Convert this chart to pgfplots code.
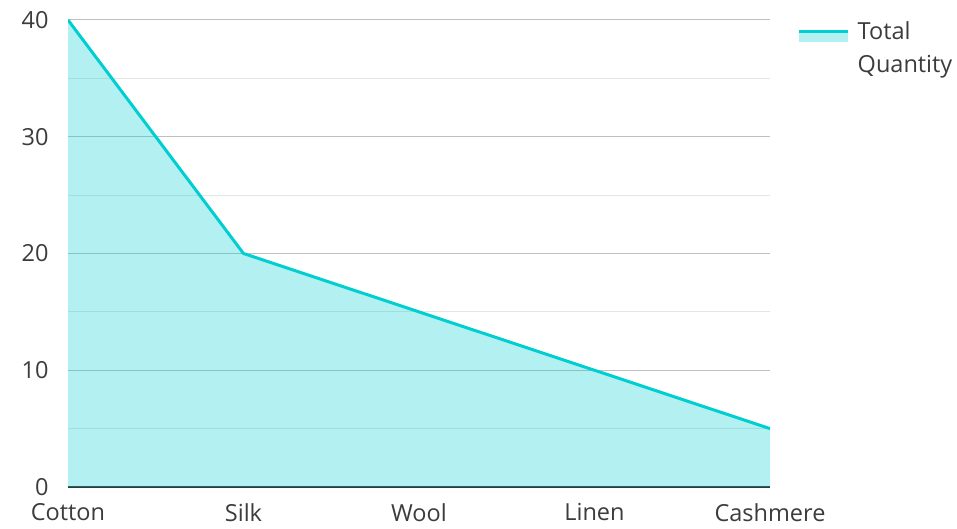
\documentclass[border=0pt]{standalone}
\usepackage{pgfplots}
\pgfplotsset{compat=1.18}
\usepackage{fontspec}
\setmainfont{Open Sans}
\definecolor{lineteal}{RGB}{0,206,209}
\definecolor{ticktext}{RGB}{60,60,60}

\begin{document}
\begin{tikzpicture}
\begin{axis}[
name=ax,
scale only axis, width=702pt, height=467pt,
xmin=0, xmax=4, ymin=0, ymax=40,
xtick={0,1,2,3,4},
xticklabels={Cotton,Silk,Wool,Linen,Cashmere},
ytick={0,10,20,30,40},
minor ytick={5,15,25,35},
ymajorgrids, yminorgrids,
major grid style={draw=black!25, line width=1pt},
minor grid style={draw=black!10, line width=1pt},
axis x line*=bottom, axis y line*=left,
x axis line style={-, draw=black!80, line width=2pt},
y axis line style={draw=none},
tick style={draw=none},
/pgf/number format/assume math mode=true,
ticklabel style={font=\fontsize{23.5}{26}\selectfont, text=ticktext},
yticklabel style={xshift=-16pt},
xticklabel style={yshift=-13pt},
legend style={at={(1,1)}, anchor=north west, xshift=24pt, yshift=3pt,
  draw=none, fill=none, font=\fontsize{23.5}{33}\selectfont, text=ticktext,
  cells={align=left, anchor=west}},
legend image code/.code={
  \path[draw=none, fill=none] (0pt,5pt) -- (57pt,5pt);
  \fill[lineteal!30, draw=none] (0pt,5pt) rectangle (49pt,16pt);
  \draw[lineteal, line width=3pt] (0pt,16pt) -- (49pt,16pt);
},
]
\addplot[draw=none, fill=lineteal, fill opacity=0.3, forget plot] coordinates {
  (0,40) (1,20) (2,15) (3,10) (4,5)
} \closedcycle;
\addplot[lineteal, line width=3pt, mark=none] coordinates {
  (0,40) (1,20) (2,15) (3,10) (4,5)
};
\addlegendentry{Total\\Quantity}
\end{axis}
\pgfresetboundingbox
\path ([xshift=-68pt, yshift=-41pt]ax.south west) rectangle ([xshift=187pt, yshift=20pt]ax.north east);
\end{tikzpicture}
\end{document}
